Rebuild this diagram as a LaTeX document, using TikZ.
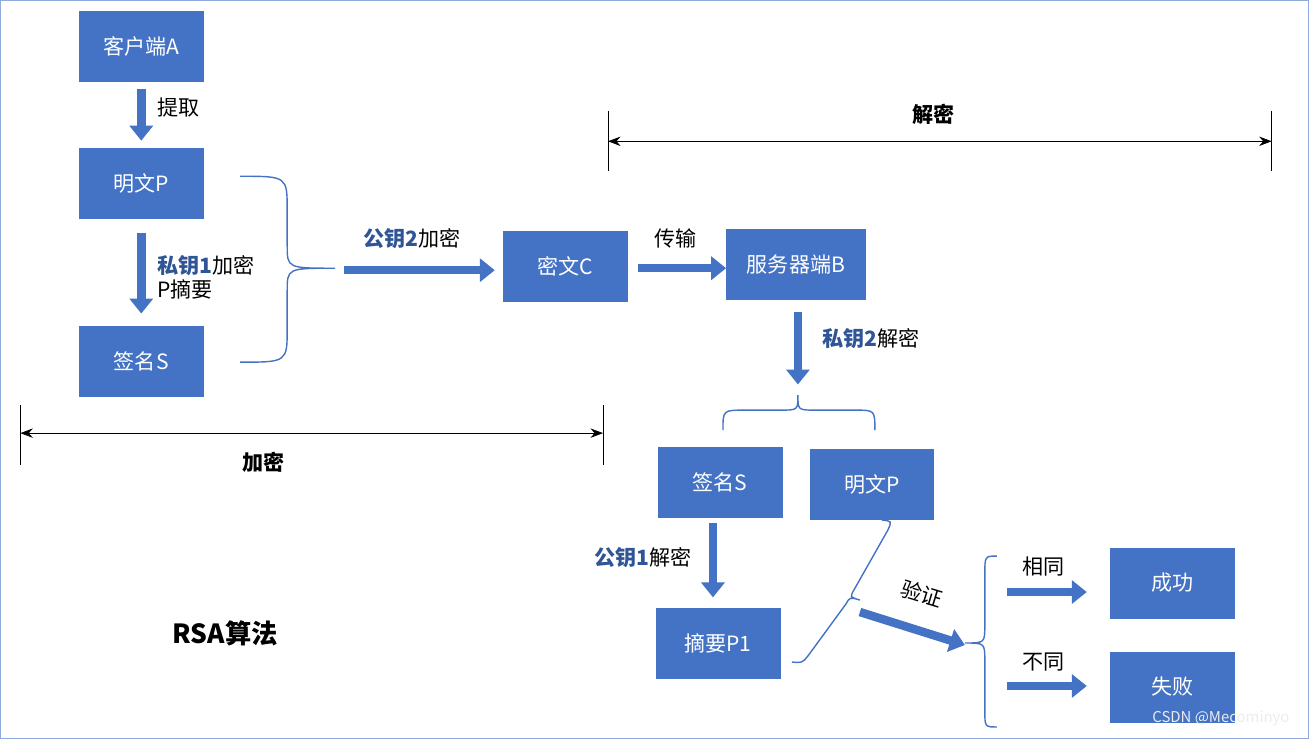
\documentclass[tikz,border=0pt]{standalone}
\usepackage{fontspec}
\setmainfont{Noto Sans CJK SC}
\usetikzlibrary{arrows.meta,positioning}
\definecolor{boxblue}{HTML}{4472C4}
\definecolor{keyblue}{HTML}{2F5597}
\begin{document}
\begin{tikzpicture}[
  x=0.02cm,y=-0.02cm,
  box/.style={draw=boxblue,fill=boxblue,text=white,minimum width=2.48cm,minimum height=1.4cm,inner sep=0pt,font=\fontsize{12}{14}\selectfont},
  bigarrow/.style={draw=boxblue,line width=0.17cm,-{Triangle[length=0.3cm,width=0.46cm]}},
  brace/.style={draw=boxblue,thick},
  dim/.style={thin,{Stealth[length=2.5mm]}-{Stealth[length=2.5mm]}},
  lbl/.style={font=\fontsize{12}{14}\selectfont,align=left,inner sep=1pt},
  ]
  \path[use as bounding box,draw=boxblue!60,thin] (0,0) rectangle (1309,738);
  %Nodes
  \node[box](client) at (141,46){客户端A};
  \node[box](plain) at (141,183){明文P};
  \node[box](sign) at (141,361){签名S};
  \node[box](cipher) at (565,266){密文C};
  \node[box,minimum width=2.78cm](server) at (796,264){服务器端B};
  \node[box](sign2) at (720,482){签名S};
  \node[box](plain2) at (872,484){明文P};
  \node[box](digest) at (718,643){摘要P1};
  \node[box](ok) at (1173,583){成功};
  \node[box](fail) at (1173,687){失败};
  %Labels
  \node[lbl,anchor=west] at (155,107){提取};
  \node[lbl,anchor=west] at (155,277){{\color{keyblue}\bfseries 私钥1}加密\\P摘要};
  \node[lbl] at (412,238){{\color{keyblue}\bfseries 公钥2}加密};
  \node[lbl] at (676,238){传输};
  \node[lbl,anchor=west] at (820,338){{\color{keyblue}\bfseries 私钥2}解密};
  \node[lbl] at (643,558){{\color{keyblue}\bfseries 公钥1}解密};
  \node[lbl,rotate=-17] at (922,594){验证};
  \node[lbl] at (1044,566){相同};
  \node[lbl] at (1044,662){不同};
  \node[lbl,font=\fontsize{12}{14}\selectfont\bfseries] at (263,462){加密};
  \node[lbl,font=\fontsize{12}{14}\selectfont\bfseries] at (934,114){解密};
  \node[font=\fontsize{15}{17}\selectfont\bfseries] at (225,633){RSA算法};
  \node[text=white!85!gray,font=\fontsize{8.5}{10}\selectfont,anchor=east] at (1296,718){CSDN @Mecominyo};
  %Arrows
  \coordinate (c1) at (344,270);
  \coordinate (c2) at (638,268);
  \coordinate (c3) at (1007,592);
  \coordinate (c4) at (1007,686);
  \draw[bigarrow] (client.south) ++(0,7) -- ++(0,52);
  \draw[bigarrow] (plain.south) ++(0,14) -- ++(0,81);
  \draw[bigarrow,shorten >=0.16cm] (c1) -- (c1 -| cipher.west);
  \draw[bigarrow] (c2) -- (c2 -| server.west);
  \draw[bigarrow] (server.south) ++(2,12) -- ++(0,73);
  \draw[bigarrow] (sign2.south) ++(-7,6) -- ++(0,74);
  \draw[bigarrow] (860,612) -- (965,645);
  \draw[bigarrow] (c3) -- ++(80,0);
  \draw[bigarrow] (c4) -- ++(80,0);
  %Braces
  \draw[brace] (240,176) .. controls (287,176) .. (287,210) -- (287,245)
    .. controls (287,268) .. (335,268) .. controls (287,268) .. (287,291)
    -- (287,328) .. controls (287,362) .. (240,362);
  \draw[brace] (723,430) .. controls (723,410) .. (745,410) -- (780,410)
    .. controls (798,410) .. (798,395) .. controls (798,410) .. (816,410)
    -- (855,410) .. controls (875,410) .. (875,430);
  \draw[brace] (997,556) .. controls (985,556) .. (985,575) -- (985,625)
    .. controls (985,643) .. (965,643) .. controls (985,643) .. (985,661)
    -- (985,710) .. controls (985,727) .. (997,727);
  \draw[brace] (882,520) .. controls (892,521) .. (888,530) -- (854,590)
    .. controls (850,597) .. (860,600) .. controls (850,597) .. (846,604)
    -- (808,656) .. controls (802,663) .. (792,662);
  %Dimension lines
  \draw[dim] (20,433) -- (603,433);
  \draw[thin] (20,405) -- (20,465) (603,405) -- (603,465);
  \draw[dim] (608,141) -- (1272,141);
  \draw[thin] (608,111) -- (608,171) (1272,111) -- (1272,171);
\end{tikzpicture}
\end{document}
